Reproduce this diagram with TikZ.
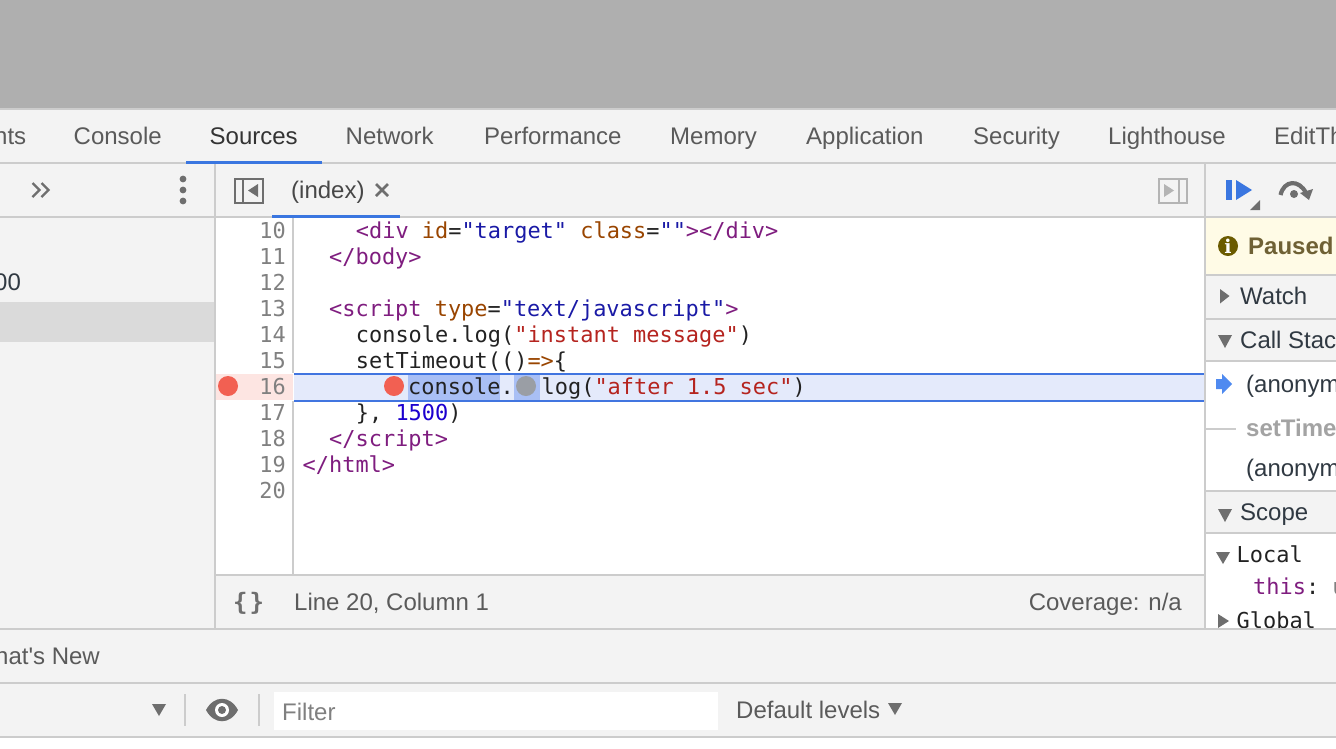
\documentclass[tikz,border=0pt]{standalone}
\usepackage{fontspec}
\setmainfont{Liberation Sans}
\setmonofont{DejaVu Sans Mono}
\newfontfamily\infofont{DejaVu Serif}
\newfontfamily\plainui{Liberation Sans}
\definecolor{panel}{HTML}{F3F3F3}
\definecolor{topgray}{HTML}{AFAFAF}
\definecolor{rule}{HTML}{CCCCCC}
\definecolor{tabtext}{HTML}{5A5A5A}
\definecolor{active}{HTML}{333333}
\definecolor{uiblue}{HTML}{3A76E0}
\definecolor{curedge}{HTML}{4175E0}
\definecolor{icon}{HTML}{6E6E6E}
\definecolor{dark}{HTML}{303942}
\definecolor{tagc}{HTML}{7F1D7F}
\definecolor{attrc}{HTML}{994500}
\definecolor{valc}{HTML}{1A1AA6}
\definecolor{strc}{HTML}{B5241F}
\definecolor{numc}{HTML}{1C00CF}
\definecolor{gutter}{HTML}{808080}
\definecolor{codec}{HTML}{222222}
\definecolor{bpred}{HTML}{F26052}
\definecolor{pausedbg}{HTML}{FFFBE6}
\definecolor{selrow}{HTML}{DADADA}
\definecolor{lighticon}{HTML}{B4B4B4}
\definecolor{curline}{HTML}{E4EAFB}
\definecolor{gutterbp}{HTML}{FDE5E2}
\definecolor{selword}{HTML}{A9BFF5}
\definecolor{bpgray}{HTML}{9A9EA5}
\definecolor{infoc}{HTML}{6B5B00}
\definecolor{pausedt}{HTML}{6F6135}
\definecolor{frameblue}{HTML}{4F8AF0}
\newcommand{\Tg}[1]{\textcolor{tagc}{#1}}
\newcommand{\At}[1]{\textcolor{attrc}{#1}}
\newcommand{\Vl}[1]{\textcolor{valc}{#1}}
\newcommand{\St}[1]{\textcolor{strc}{#1}}
\newcommand{\Nm}[1]{\textcolor{numc}{#1}}
\tikzset{
  ui/.style={anchor=base west,inner sep=0pt,font=\fontsize{24}{28}\selectfont,text=tabtext},
  uidark/.style={ui,text=dark},
  code/.style={anchor=base west,inner sep=0pt,font=\ttfamily\fontsize{21.93}{26}\selectfont,text=codec},
  lineno/.style={anchor=base east,inner sep=0pt,font=\ttfamily\fontsize{21.93}{26}\selectfont,text=gutter},
  sep/.style={draw=rule,line width=2pt},
}
\begin{document}
\begin{tikzpicture}[x=1pt,y=-1pt]
\useasboundingbox (0,0) rectangle (1336,748);
\clip (0,0) rectangle (1336,748);
% base areas
\fill[panel] (0,0) rectangle (1336,748);
\fill[topgray] (0,0) rectangle (1336,108);
\fill[white] (0,738) rectangle (1336,748);
\fill[white] (216,218) rectangle (1204,574);
\fill[white] (1206,362) rectangle (1336,490);
\fill[white] (1206,534) rectangle (1336,628);
\fill[pausedbg] (1206,218) rectangle (1336,274);
\fill[selrow] (0,302) rectangle (214,342);

% tabs
\node[ui] at (-6,144) {nts};
\node[ui] at (73.5,144) {Console};
\node[ui,text=active] at (209.5,144) {Sources};
\node[ui] at (345.5,144) {Network};
\node[ui] at (484,144) {Performance};
\node[ui] at (670,144) {Memory};
\node[ui] at (806,144) {Application};
\node[ui] at (973,144) {Security};
\node[ui] at (1108,144) {Lighthouse};
\node[ui] at (1274,144) {EditTh};

% left pane
\draw[icon,line width=2.4pt] (32.5,183) -- (39.5,190) -- (32.5,197);
\draw[icon,line width=2.4pt] (41.5,183) -- (48.5,190) -- (41.5,197);
\fill[icon] (183,179) circle (3.4) (183,190) circle (3.4) (183,201) circle (3.4);
\node[uidark] at (-6,290) {00};

% editor toolbar
\draw[icon,line width=2pt] (235,179) rectangle (263,203);
\draw[icon,line width=2pt] (243,179) -- (243,203);
\fill[icon] (248,190.5) -- (258,184) -- (258,197) -- cycle;
\node[ui,text=active!90] at (291,198) {(index)};
\draw[icon,line width=2.6pt] (376,184) -- (388,196) (388,184) -- (376,196);
\draw[lighticon,line width=2pt] (1159,179) rectangle (1187,203);
\draw[lighticon,line width=2pt] (1179,179) -- (1179,203);
\fill[lighticon] (1174,190.5) -- (1164,184) -- (1164,197) -- cycle;

% debugger toolbar
\fill[uiblue] (1226,180) rectangle (1232,200);
\fill[uiblue] (1236,180) -- (1252,190) -- (1236,200) -- cycle;
\fill[icon] (1260,200) -- (1260,210) -- (1250,210) -- cycle;
\draw[icon,line width=4.2pt] (1280.5,195) .. controls (1284,180) and (1299,179) .. (1306,193);
\fill[icon] (1300,193) -- (1313,189) -- (1309,200) -- cycle;
\fill[icon] (1294,194) circle (4);

% code: current-line highlight
\fill[curline] (294,374) rectangle (1204,400);
\fill[gutterbp] (216,374) rectangle (293,400);
\fill[selword] (408,374) rectangle (500,400);
\fill[selword] (514,374) rectangle (540,400);
\draw[curedge,line width=2pt] (294,373.5) -- (1204,373.5) (294,400.5) -- (1204,400.5);
\fill[bpred] (228,386) circle (10);
\fill[bpred] (394,386) circle (10);
\fill[bpgray] (526,386) circle (10);

% line numbers
\foreach \n/\yy in {10/238,11/264,12/290,13/316,14/342,15/368,16/394,17/420,18/446,19/472,20/498}
  \node[lineno] at (286,\yy) {\n};

% code
\node[code] at (355.7,238) {\Tg{<div} \At{id}=\Vl{"target"} \At{class}=\Vl{""}\Tg{></div>}};
\node[code] at (329,264) {\Tg{</body>}};
\node[code] at (329,316) {\Tg{<script} \At{type}=\Vl{"text/javascript"}\Tg{>}};
\node[code] at (355.7,342) {console.log(\St{"instant message"})};
\node[code] at (355.7,368) {setTimeout(()\At{=>}\{};
\node[code] at (408,394) {console.};
\node[code] at (541.5,394) {log(\St{"after 1.5 sec"})};
\node[code] at (355.7,420) {\}, \Nm{1500})};
\node[code] at (329,446) {\Tg{</script>}};
\node[code] at (302.5,472) {\Tg{</html>}};

% status bar
\node[code,font=\ttfamily\bfseries\fontsize{24}{28}\selectfont,text=icon] at (233,610) {\{\kern2pt\}};
\node[ui] at (294,610) {Line 20, Column 1};
\node[ui,anchor=base east] at (1182,610) {Coverage: n/a};

% right pane
\fill[infoc] (1228,246) circle (10);
\node[anchor=base,inner sep=0pt,font=\infofont\bfseries\fontsize{19}{20}\selectfont,text=white] at (1228,253) {i};
\node[ui,font=\bfseries\fontsize{24}{28}\selectfont,text=pausedt] at (1248,254) {Paused};
\fill[icon] (1220,289) -- (1229.5,296) -- (1220,303.5) -- cycle;
\node[uidark] at (1240,304) {Watch};
\fill[icon] (1218,335) -- (1232,335) -- (1225,348) -- cycle;
\node[uidark] at (1240,348) {Call Stac};
\fill[frameblue] (1216,379) -- (1222,379) -- (1222,374) -- (1232,384) -- (1222,394) -- (1222,389) -- (1216,389) -- cycle;
\node[uidark] at (1246,392) {(anonym};
\draw[rule,line width=1.6pt] (1206,429) -- (1236,429);
\node[ui,font=\bfseries\fontsize{24}{28}\selectfont,text=black!36] at (1246,436) {setTime};
\node[uidark] at (1246,476) {(anonym};
\fill[icon] (1218,509) -- (1232,509) -- (1225,522) -- cycle;
\node[uidark] at (1240,520) {Scope};
\fill[icon] (1216,552) -- (1230,552) -- (1223,564) -- cycle;
\node[code] at (1236.5,562) {Local};
\node[code] at (1253,594) {\Tg{this}: \textcolor{gutter}{u}};
\fill[icon] (1218,614) -- (1229,621) -- (1218,628) -- cycle;
\node[code] at (1236.5,628) {Global};

% bottom bars (cover clipped text)
\fill[panel] (0,629) rectangle (1336,737);
\node[ui,font=\plainui\fontsize{24}{28}\selectfont] at (-5,664) {hat's New};
\fill[icon] (152,704) -- (166,704) -- (159,716) -- cycle;
\draw[sep] (185,694) -- (185,726);
\draw[sep] (259,694) -- (259,726);
\fill[icon] (206,710) .. controls (214,695) and (230,695) .. (238,710) .. controls (230,725) and (214,725) .. (206,710) -- cycle;
\fill[white] (222,710) circle (7);
\fill[icon] (222,710) circle (4);
\fill[white] (274,692) rectangle (718,730);
\node[ui,text=gutter] at (282,720) {Filter};
\node[ui] at (736,718) {Default levels};
\fill[icon] (888,703) -- (902,703) -- (895,715) -- cycle;

% separators
\draw[sep] (0,109) -- (1336,109);
\draw[sep] (0,163) -- (1336,163);
\draw[sep] (0,217) -- (1336,217);
\draw[sep] (215,164) -- (215,628);
\draw[sep] (1205,164) -- (1205,628);
\draw[sep] (293,218) -- (293,373) (293,401) -- (293,574);
\draw[sep] (216,575) -- (1204,575);
\draw[sep] (0,629) -- (1336,629);
\draw[sep] (0,683) -- (1336,683);
\draw[sep] (0,737) -- (1336,737);
\draw[sep] (1206,275) -- (1336,275);
\draw[sep] (1206,319) -- (1336,319);
\draw[sep] (1206,361) -- (1336,361);
\draw[sep] (1206,491) -- (1336,491);
\draw[sep] (1206,533) -- (1336,533);
\fill[uiblue] (186,161) rectangle (322,164);
\fill[uiblue] (272,215) rectangle (400,218);
\end{tikzpicture}
\end{document}
